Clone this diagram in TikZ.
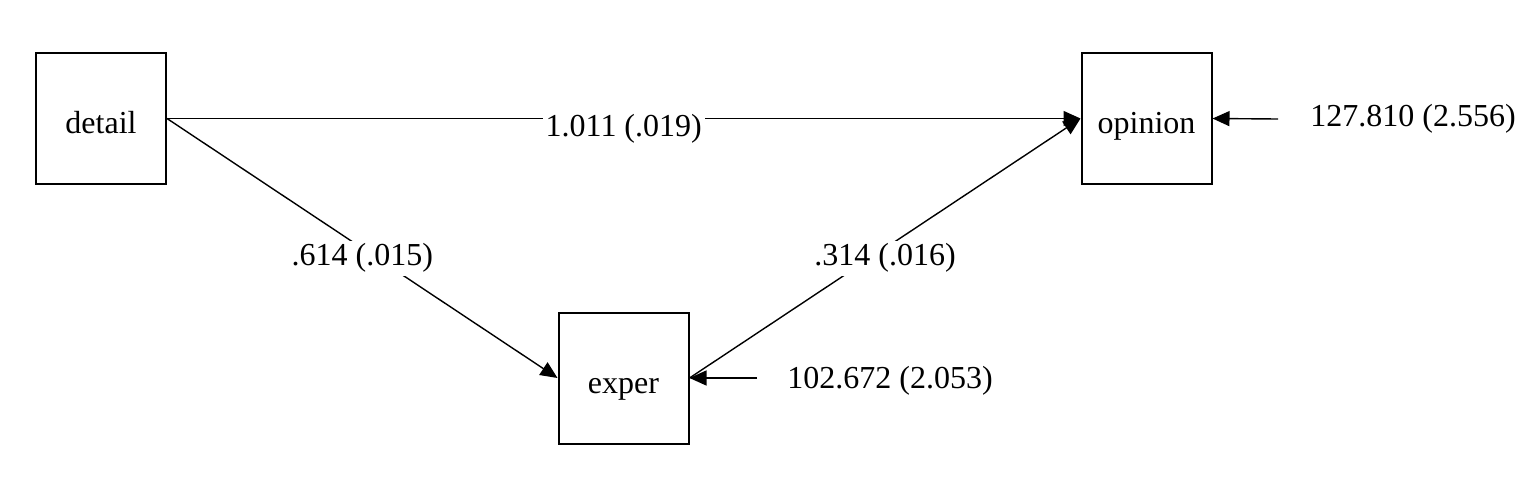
\documentclass[tikz,border=0pt]{standalone}
\usepackage{fontspec}
\setmainfont{Liberation Serif}
\usetikzlibrary{arrows.meta}
\newcommand{\vtxt}[1]{\raisebox{-7.5pt}[0pt][0pt]{#1}}
\begin{document}
\begin{tikzpicture}[x=0.5pt,y=-0.5pt,
  font=\fontsize{16}{19}\selectfont,
  var/.style={draw,line width=1pt,minimum width=65pt,minimum height=65.5pt,inner sep=0pt},
  path/.style={line width=0.7pt,-{Triangle[length=8.5pt,width=7.5pt]}},
  coef/.style={fill=white,inner sep=1.5pt,yshift=-5pt},
  resid/.style={anchor=west,inner sep=0pt}]
\useasboundingbox (0,0) rectangle (1536,493);
\node[var] (detail) at (101,118.5) {\vtxt{detail}};
\node[var] (opinion) at (1146.5,118.5) {\vtxt{opinion}};
\node[var] (exper) at (623.5,378) {\vtxt{exper}};
\draw[path] (detail.east) -- node[coef] {1.011 (.019)} (opinion.west);
\draw[path] (detail.east) -- node[coef] {.614 (.015)} (exper.west);
\draw[path] (exper.east) -- node[coef] {.314 (.016)} (opinion.west);
\coordinate (eo) at (1278,119);
\coordinate (ee) at (757,378);
\draw[path] (eo) -- (opinion.east);
\draw[path] (ee) -- (exper.east);
\node[resid] (ro) at (1310,119) {127.810 (2.556)};
\node[resid] (re) at (787,381) {102.672 (2.053)};
\end{tikzpicture}
\end{document}
